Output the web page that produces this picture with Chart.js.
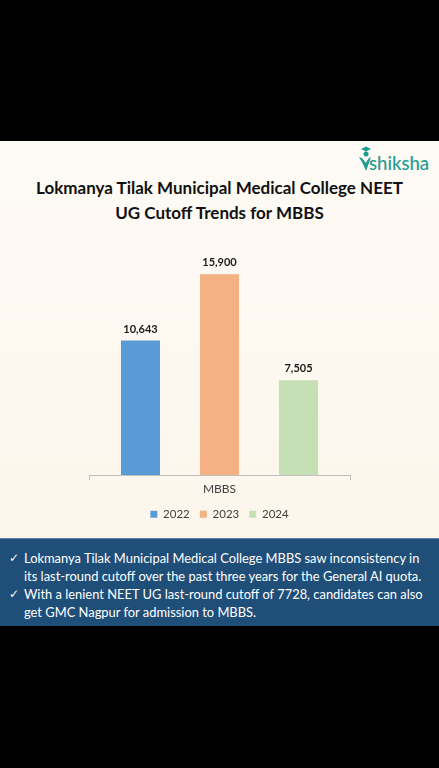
<!DOCTYPE html>
<html>
<head>
<meta charset="utf-8">
<script src="https://cdn.jsdelivr.net/npm/chart.js@4.4.1/dist/chart.umd.min.js"></script>
<style>
  html, body { margin: 0; padding: 0; background: #000; }
  body { width: 439px; height: 768px; position: relative; overflow: hidden; font-family: Lato, "Open Sans", sans-serif; }
  #panel { position: absolute; left: 0; top: 141px; width: 439px; height: 397px;
           background: linear-gradient(#fefaf5, #fcf6ec); }
  #titulo { position: absolute; left: 0; top: 175px; width: 439px; text-align: center;
            font-weight: bold; font-size: 17px; line-height: 25px; color: #111; }
  #logo { position: absolute; left: 358px; top: 146px; width: 80px; height: 30px; }
  #logo span { position: absolute; left: 11px; top: 6px; font-size: 18.5px; color: #1c9b93; font-weight: 500; }
  #grafico-box { position: absolute; left: 60px; top: 240px; width: 319px; height: 290px; }
  #caixa { position: absolute; left: 0; top: 538px; width: 439px; height: 88px; background: #1f4e79;
           border-top: 1px solid #5b7fa6; box-sizing: border-box; color: #fff; font-size: 12.9px; line-height: 18px; }
  #caixa ul { list-style: none; margin: 0; padding: 10px 0 0 24px; white-space: nowrap; }
  #caixa li { position: relative; }
  #caixa li::before { content: "\2713"; position: absolute; left: -15px; top: 0; font-family: "DejaVu Sans"; font-size: 12px; }
</style>
</head>
<body>
<div id="panel"></div>
<div id="logo">
  <svg width="14" height="28" style="position:absolute;left:0;top:0">
    <polygon points="3,3 8,0.5 13,3 8,5.5" fill="#1c9b93"/>
    <circle cx="8" cy="8" r="2.5" fill="#1c9b93"/>
    <path d="M1,11 Q4,11 8,17 Q10,12 13,11 Q11,17 8,25 Q5,17 1,11 Z" fill="#1c9b93"/>
  </svg>
  <span>shiksha</span>
</div>
<div id="titulo">Lokmanya Tilak Municipal Medical College NEET<br>UG Cutoff Trends for MBBS</div>
<div id="grafico-box"><canvas id="grafico"></canvas></div>
<div id="caixa">
  <ul>
    <li>Lokmanya Tilak Municipal Medical College MBBS saw inconsistency in<br>its last-round cutoff over the past three years for the General AI quota.</li>
    <li>With a lenient NEET UG last-round cutoff of 7728, candidates can also<br>get GMC Nagpur for admission to MBBS.</li>
  </ul>
</div>
<script>
// dados do gráfico
const categorias = ['MBBS'];
const anos = ['2022', '2023', '2024'];
const valores2022 = [10643];
const valores2023 = [15900];
const valores2024 = [7505];
const cores = ['#5b9bd5', '#f4b183', '#c5e0b4'];

// rótulos de valor acima das barras
const rotulosValor = {
    id: 'rotulosValor',
    afterDatasetsDraw(chart) {
        const ctx = chart.ctx;
        ctx.save();
        ctx.font = 'bold 11px Lato, "Open Sans", sans-serif';
        ctx.fillStyle = '#1a1a1a';
        ctx.textAlign = 'center';
        ctx.textBaseline = 'bottom';
        chart.data.datasets.forEach((ds, i) => {
            chart.getDatasetMeta(i).data.forEach((bar, j) => {
                ctx.fillText(ds.data[j].toLocaleString('en-US'), bar.x, bar.y - 6);
            });
        });
        ctx.restore();
    }
};

const series = [valores2022, valores2023, valores2024];

new Chart(document.getElementById('grafico'), {
    type: 'bar',
    data: {
        labels: categorias,
        datasets: anos.map((ano, i) => ({
            label: ano,
            data: series[i],
            backgroundColor: cores[i],
            categoryPercentage: 0.908,
            barPercentage: 0.494
        }))
    },
    options: {
        responsive: true,
        maintainAspectRatio: false,
        animation: false,
        layout: { padding: { left: 29, right: 29, top: 0, bottom: 0 } },
        plugins: {
            legend: {
                position: 'bottom',
                labels: {
                    boxWidth: 7,
                    boxHeight: 7,
                    padding: 10,
                    color: '#404040',
                    font: { size: 11.5, family: 'Lato, "Open Sans", sans-serif' }
                }
            },
            tooltip: { enabled: false }
        },
        scales: {
            y: { display: false, min: 0, max: 18600 },
            x: {
                grid: { display: true, drawOnChartArea: false, drawTicks: true, tickLength: 5, color: '#bfbfbf' },
                border: { display: true, color: '#bfbfbf' },
                ticks: { color: '#404040', padding: 2, font: { size: 12, family: 'Lato, "Open Sans", sans-serif' } }
            }
        }
    },
    plugins: [rotulosValor]
});
</script>
</body>
</html>
